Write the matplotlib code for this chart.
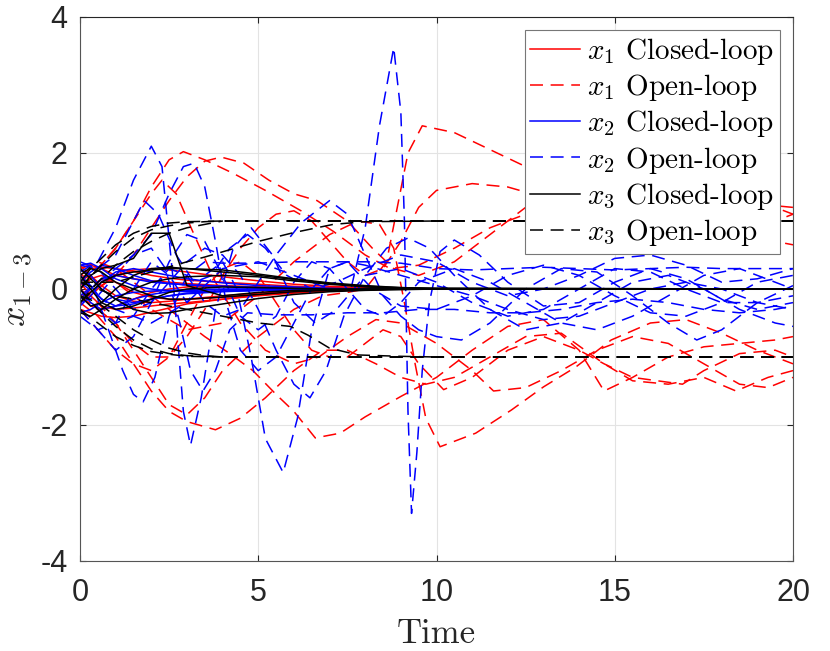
import matplotlib
matplotlib.use("Agg")
import matplotlib.pyplot as plt

plt.rcParams["mathtext.fontset"] = "cm"
plt.rcParams["axes.unicode_minus"] = False

# closed-loop runs: common time grid
t_closed = [0, 0.3, 0.6, 1, 1.5, 2, 2.5, 3, 4, 5, 6, 7, 8, 9, 10, 20]

x1_closed = [
    [0.3, 0.35, 0.3, 0.2, 0.15, 0.12, 0.1, 0.08, 0.05, 0.03, 0.02, 0.01, 0, 0, 0, 0],
    [-0.2, -0.1, 0.05, 0.2, 0.28, 0.3, 0.28, 0.25, 0.18, 0.12, 0.07, 0.04, 0.02, 0.01, 0, 0],
    [0.1, -0.1, -0.25, -0.3, -0.28, -0.25, -0.22, -0.2, -0.15, -0.1, -0.06, -0.03, -0.01, 0, 0, 0],
    [-0.3, -0.35, -0.4, -0.42, -0.4, -0.34, -0.28, -0.22, -0.15, -0.09, -0.05, -0.02, -0.01, 0, 0, 0],
    [0.2, 0.3, 0.32, 0.3, 0.26, 0.2, 0.16, 0.13, 0.1, 0.07, 0.04, 0.02, 0.01, 0, 0, 0],
    [0.0, 0.15, 0.2, 0.1, -0.05, -0.12, -0.15, -0.15, -0.12, -0.08, -0.05, -0.02, -0.01, 0, 0, 0],
    [-0.1, -0.25, -0.3, -0.25, -0.15, -0.05, 0.0, 0.03, 0.04, 0.03, 0.02, 0.01, 0, 0, 0, 0],
    [0.35, 0.2, 0.05, -0.1, -0.18, -0.2, -0.18, -0.15, -0.1, -0.06, -0.03, -0.01, 0, 0, 0, 0],
]

x2_closed = [
    [0.3, 0.2, 0.0, -0.15, -0.2, -0.15, -0.1, -0.07, -0.04, -0.02, -0.01, 0, 0, 0, 0, 0],
    [-0.25, -0.1, 0.1, 0.25, 0.3, 0.25, 0.2, 0.15, 0.09, 0.05, 0.03, 0.01, 0, 0, 0, 0],
    [0.1, 0.25, 0.35, 0.3, 0.2, 0.12, 0.08, 0.06, 0.04, 0.02, 0.01, 0, 0, 0, 0, 0],
    [-0.35, -0.3, -0.2, -0.1, -0.05, -0.03, -0.02, -0.01, 0, 0, 0, 0, 0, 0, 0, 0],
    [0.0, -0.2, -0.3, -0.25, -0.15, -0.08, -0.04, -0.02, -0.01, 0, 0, 0, 0, 0, 0, 0],
    [0.2, 0.05, -0.15, -0.25, -0.22, -0.15, -0.1, -0.06, -0.03, -0.02, -0.01, 0, 0, 0, 0, 0],
    [-0.15, 0.0, 0.15, 0.2, 0.15, 0.1, 0.08, 0.06, 0.04, 0.02, 0.01, 0, 0, 0, 0, 0],
    [0.35, 0.38, 0.3, 0.15, 0.05, 0.0, -0.03, -0.04, -0.03, -0.02, -0.01, 0, 0, 0, 0, 0],
]

x3_closed = [
    [0.0, 0.2, 0.3, 0.35, 0.45, 0.82, 0.82, 0.05, -0.1, -0.05, -0.02, -0.01, 0, 0, 0, 0],
    [0.3, 0.15, 0.0, -0.15, -0.3, -0.36, -0.35, -0.3, -0.22, -0.14, -0.08, -0.04, -0.02, -0.01, 0, 0],
    [-0.2, -0.05, 0.1, 0.2, 0.25, 0.28, 0.3, 0.3, 0.28, 0.22, 0.15, 0.09, 0.05, 0.02, 0.01, 0],
    [0.1, 0.3, 0.25, 0.1, 0.0, -0.1, -0.15, -0.15, -0.12, -0.08, -0.04, -0.02, -0.01, 0, 0, 0],
    [-0.35, -0.4, -0.3, -0.15, 0.0, 0.1, 0.15, 0.18, 0.2, 0.18, 0.12, 0.07, 0.03, 0.01, 0, 0],
    [0.2, 0.0, -0.2, -0.3, -0.25, -0.15, -0.05, 0.0, 0.03, 0.02, 0.01, 0, 0, 0, 0, 0],
    [-0.1, -0.25, -0.2, 0.0, 0.2, 0.3, 0.32, 0.3, 0.25, 0.2, 0.14, 0.08, 0.04, 0.02, 0.01, 0],
]

# open-loop runs: (time, value) knots
x1_open = [
    [(0, 0.1), (0.5, 0.3), (1, 0.6), (1.5, 1.0), (2, 1.5), (2.5, 1.9), (2.9, 2.02), (3.5, 1.9),
     (4.3, 1.7), (5.2, 1.45), (6.2, 1.15), (7.1, 0.85), (8, 0.5), (8.7, 0.3), (9.5, 0.35),
     (10.5, 0.6), (11.5, 0.9), (12.5, 1.1), (13.5, 1.0), (14.5, 0.8), (15.5, 0.7), (16.5, 0.85),
     (17.5, 1.1), (18.5, 1.3), (19.5, 1.2), (20, 1.1)],
    [(0, -0.1), (0.5, -0.3), (1, -0.5), (1.5, -0.9), (2, -1.3), (2.5, -1.7), (3, -1.85),
     (3.5, -1.6), (4, -1.2), (5, -0.7), (6, -0.3), (6.8, -0.1), (7.5, -0.05), (8, 0.0),
     (8.6, 0.4), (8.9, 1.2), (9.2, 2.0), (9.6, 2.4), (10.5, 2.3), (11.5, 2.05), (12.5, 1.8),
     (13.5, 1.55), (14.5, 1.35), (15.5, 1.2), (16.5, 1.05), (17.5, 0.95), (18.5, 0.85),
     (19.3, 0.72), (20, 0.65)],
    [(0, 0.2), (1, 0.1), (2, -0.3), (3, -0.6), (4, -0.5), (5, -0.1), (6, 0.4), (7, 0.8),
     (7.8, 1.0), (8.4, 0.95), (8.8, 0.6), (9.1, -0.2), (9.4, -1.1), (9.7, -1.9), (10.1, -2.32),
     (11.1, -2.12), (12.1, -1.78), (13, -1.44), (13.9, -1.15), (14.9, -0.75), (16, -0.5),
     (17, -0.45), (18, -0.65), (19, -0.9), (20, -1.1)],
    [(0, -0.2), (0.5, -0.4), (1, -0.7), (1.5, -1.1), (2, -1.5), (2.5, -1.8), (3, -1.95),
     (3.8, -2.07), (4.5, -1.9), (5.2, -1.6), (6, -1.2), (6.8, -0.9), (7.5, -0.9), (8.3, -1.1),
     (9, -1.3), (9.7, -1.4), (10.5, -1.3), (11.5, -1.0), (12.5, -0.7), (13.5, -0.65),
     (14.7, -1.1), (15.5, -1.35), (16.5, -1.4), (17.5, -1.3), (18.4, -1.5), (19.3, -1.3),
     (20, -1.2)],
    [(0, 0.3), (0.5, 0.4), (1, 0.3), (1.5, 0.1), (2, -0.1), (2.5, -0.3), (3, -0.5), (3.5, -0.7),
     (4.2, -0.95), (4.85, -1.2), (5.5, -1.55), (6, -1.8), (6.6, -2.19), (7.3, -2.12),
     (8, -1.88), (9, -1.58), (10, -1.3), (11, -0.9), (12, -0.55), (13, -0.45), (14, -0.9),
     (14.7, -1.5), (15.5, -1.3), (16.5, -1.0), (17.5, -0.85), (18.5, -0.8), (19.5, -0.75),
     (20, -0.7)],
    [(0, -0.1), (0.5, 0.0), (1, 0.2), (1.5, 0.5), (2, 0.9), (2.5, 1.3), (3, 1.65), (3.5, 1.88),
     (3.96, 1.94), (4.6, 1.85), (5.3, 1.6), (6, 1.4), (6.65, 1.3), (7.5, 1.0), (8.2, 0.6),
     (8.8, 0.3), (9.5, 0.2), (10.5, 0.4), (11.5, 0.8), (12.5, 1.2), (13.5, 1.45), (14.5, 1.5),
     (15.5, 1.3), (16.5, 1.0), (17.5, 0.8), (18.5, 0.8), (19.5, 1.0), (20, 1.1)],
    [(0, 0.0), (0.5, -0.2), (1, -0.5), (1.5, -0.8), (2, -1.0), (2.5, -1.0), (3, -0.7),
     (3.5, -0.3), (4, 0.2), (4.5, 0.6), (5, 0.9), (5.5, 1.1), (6, 1.15), (6.5, 1.0), (7, 0.7),
     (7.5, 0.4), (8, 0.2), (8.5, 0.3), (9, 0.7), (9.5, 1.2), (10, 1.45), (11, 1.55), (12, 1.5),
     (13, 1.35), (14, 1.1), (15, 0.85), (16, 0.75), (17, 0.85), (18, 1.1), (19, 1.25), (20, 1.2)],
    [(0, 0.0), (0.5, 0.3), (1, 0.6), (1.5, 1.0), (2, 1.4), (2.3, 1.6), (2.7, 1.4), (3.2, 0.8),
     (3.8, 0.1), (4.5, -0.5), (5.2, -0.9), (6, -1.1), (6.7, -1.0), (7.5, -0.7), (8.3, -0.45),
     (9, -0.5), (10, -0.8), (11, -1.2), (11.6, -1.5), (12.5, -1.45), (13.5, -1.2), (14.5, -0.9),
     (15.5, -0.7), (16.5, -0.8), (17.5, -1.1), (18.5, -1.4), (19.3, -1.45), (20, -1.3)],
    [(0, -0.3), (0.5, -0.6), (1, -0.9), (1.5, -1.1), (2, -1.2), (2.5, -1.0), (3, -0.5),
     (3.5, 0.0), (4, 0.3), (4.5, 0.4), (5, 0.2), (5.5, -0.2), (6, -0.6), (6.5, -0.9), (7, -1.0),
     (7.5, -1.0), (8, -0.8), (8.5, -0.6), (9, -0.7), (9.5, -1.1), (10.2, -1.48), (11, -1.3),
     (12, -0.9), (13, -0.7), (14, -0.9), (14.7, -1.1), (15.5, -1.3), (16.9, -1.4), (17.5, -1.2),
     (18.5, -0.95), (19.5, -0.9), (20, -1.0)],
]

x2_open = [
    [(0, 0.25), (0.5, 0.4), (1, 0.9), (1.5, 1.6), (2.0, 2.1), (2.3, 1.8), (2.6, 0.2),
     (2.9, -1.8), (3.1, -2.3), (3.4, -1.6), (3.8, -0.3), (4.3, 0.6), (4.8, 0.9), (5.4, 0.5),
     (6, -0.2), (6.6, -0.5), (7.2, -0.3), (8, 0.2), (9, 0.3), (10, 0.1), (11, -0.2), (12, -0.4),
     (13, -0.3), (14, 0.0), (15, 0.3), (16, 0.25), (17, 0.0), (18, -0.2), (19, -0.2), (20, -0.1)],
    [(0, -0.1), (0.5, 0.1), (1, 0.3), (1.5, 0.5), (2, 0.8), (2.5, 1.4), (2.9, 1.8), (3.2, 1.85),
     (3.5, 1.5), (3.8, 0.7), (4.1, -0.2), (4.5, -0.9), (5, -1.2), (5.5, -1.0), (6, -0.5),
     (6.5, 0.0), (7, 0.3), (7.5, 0.4), (8, 0.35), (9, 0.2), (10, 0.05), (11, -0.1), (12, -0.3),
     (13, -0.45), (14, -0.4), (15, -0.2), (16, 0.0), (17, 0.1), (18, 0.0), (19, -0.2), (20, -0.3)],
    [(0, 0.1), (1, -0.3), (2, -0.5), (3, -0.2), (4, 0.3), (5, 0.4), (6, 0.2), (7, 0.0),
     (7.6, 0.0), (8.0, 0.9), (8.4, 2.4), (8.8, 3.55), (9.0, 2.6), (9.1, 1.0), (9.2, -1.8),
     (9.3, -3.3), (9.45, -2.4), (9.6, -1.2), (9.8, -0.2), (10.1, 0.55), (10.5, 0.72),
     (11.2, 0.5), (12, 0.1), (13, -0.25), (14, -0.2), (15, 0.1), (16, 0.3), (17, 0.15),
     (18, -0.15), (19, -0.3), (20, -0.2)],
    [(0, -0.3), (0.5, -0.6), (1, -0.5), (1.5, 0.0), (2, 0.4), (2.5, 0.2), (3, -0.2), (3.5, 0.2),
     (4, 0.4), (4.4, 0.0), (4.8, -1.0), (5.2, -2.2), (5.7, -2.7), (6.1, -1.9), (6.5, -0.6),
     (7.0, 0.3), (7.5, 0.4), (8.2, 0.0), (9, -0.25), (10, -0.3), (11, -0.1), (12, 0.2),
     (13, 0.35), (14, 0.2), (15, -0.1), (16, -0.35), (17, -0.4), (18, -0.2), (19, 0.1), (20, 0.2)],
    [(0, 0.35), (0.5, 0.3), (1, 0.0), (1.5, -0.3), (2, -0.2), (2.5, 0.1), (3, 0.4), (3.5, 0.6),
     (4, 0.5), (4.5, 0.2), (5, -0.3), (5.5, -0.9), (6, -1.4), (6.45, -1.6), (6.9, -1.2),
     (7.4, -0.4), (8, 0.2), (8.6, 0.6), (9.2, 0.75), (9.8, 0.6), (10.5, 0.2), (11.5, -0.3),
     (12.5, -0.6), (13.5, -0.5), (14.5, -0.2), (15.5, 0.1), (16.5, 0.2), (17.5, 0.0),
     (18.5, -0.3), (19.5, -0.5), (20, -0.55)],
    [(0, 0.2), (0.4, 0.0), (0.8, -0.6), (1.2, -1.2), (1.5, -1.55), (1.77, -1.66), (2.1, -1.3),
     (2.5, -0.4), (3, 0.2), (3.5, 0.4), (4, 0.38), (5, 0.38), (6, 0.4), (7, 0.4), (8, 0.4),
     (9, 0.38), (10, 0.3), (11, 0.28), (12, 0.3), (13, 0.32), (14, 0.3), (15, 0.28), (16, 0.3),
     (17, 0.32), (18, 0.3), (19, 0.3), (20, 0.3)],
    [(0, -0.2), (0.5, -0.1), (1, 0.2), (1.5, 0.5), (2, 0.6), (2.4, 0.3), (2.8, -0.5),
     (3.1, -1.2), (3.45, -1.5), (3.8, -1.2), (4.2, -0.6), (4.7, -0.35), (5.5, -0.38),
     (6.5, -0.38), (7.5, -0.35), (8.5, -0.35), (9.5, -0.3), (10.5, -0.3), (11.5, -0.35),
     (12.5, -0.35), (13.5, -0.3), (14.5, -0.2), (15.5, -0.15), (16.5, -0.2), (17.5, -0.3),
     (18.5, -0.35), (19.5, -0.3), (20, -0.25)],
    [(0, 0.0), (0.5, -0.3), (1, -0.5), (1.5, -0.4), (2, 0.0), (2.5, 0.3), (3, 0.2), (3.5, -0.2),
     (4, -0.4), (4.5, -0.3), (5, 0.1), (5.5, 0.5), (6.2, 0.97), (7, 1.3), (7.5, 1.1), (8, 0.5),
     (8.5, -0.1), (9, -0.4), (9.5, -0.6), (10, -0.7), (10.7, -0.75), (11.5, -0.5), (12.5, 0.0),
     (13.5, 0.3), (14.5, 0.25), (15.5, -0.1), (16.5, -0.5), (17.3, -0.75), (18, -0.6),
     (19, -0.2), (20, 0.05)],
    [(0, 0.4), (0.5, 0.3), (1, 0.5), (1.5, 1.0), (1.8, 1.3), (2.2, 1.1), (2.7, 0.5), (3.2, 0.1),
     (3.7, 0.2), (4.2, 0.6), (4.7, 0.8), (5.2, 0.6), (5.8, 0.2), (6.5, 0.0), (7.2, 0.1),
     (8, 0.3), (9, 0.5), (10, 0.4), (11, 0.1), (12, -0.1), (13, 0.0), (14, 0.2), (15, 0.45),
     (16, 0.5), (17, 0.35), (18, 0.1), (19, 0.15), (20, 0.3)],
    [(0, -0.4), (0.5, -0.6), (1, -0.9), (1.5, -0.7), (2, -0.2), (2.5, 0.4), (3, 0.8), (3.5, 0.7),
     (4, 0.2), (4.5, -0.4), (5, -0.6), (5.5, -0.4), (6, 0.1), (6.5, 0.4), (7, 0.3), (7.5, 0.0),
     (8, -0.3), (8.5, -0.4), (9, -0.2), (9.5, 0.1), (10.5, 0.3), (11.5, 0.1), (12.5, -0.2),
     (13.5, -0.5), (14.5, -0.6), (15.5, -0.4), (16.5, -0.1), (17.5, 0.2), (18.5, 0.3),
     (19.5, 0.1), (20, 0.0)],
]

x3_open = [
    [(0, 0.0), (0.5, 0.3), (1, 0.55), (1.5, 0.75), (2, 0.87), (2.5, 0.93), (3, 0.97),
     (3.5, 0.99), (4, 1.0), (20, 1.0)],
    [(0, -0.2), (0.5, 0.1), (1, 0.35), (1.5, 0.55), (2, 0.7), (2.5, 0.82), (3, 0.9), (3.5, 0.95),
     (4, 1.0), (20, 1.0)],
    [(0, 0.1), (1, 0.1), (2, 0.25), (3, 0.4), (3.5, 0.47), (5, 0.7), (6, 0.83), (7.1, 0.95),
     (8, 0.99), (10, 1.0), (20, 1.0)],
    [(0, 0.2), (0.5, 0.4), (1, 0.65), (1.5, 0.82), (2, 0.92), (2.5, 0.97), (3, 0.99), (4, 1.0),
     (20, 1.0)],
    [(0, 0.0), (0.5, -0.3), (1, -0.55), (1.5, -0.75), (2, -0.88), (2.5, -0.95), (3, -0.98),
     (3.5, -0.99), (4, -1.0), (20, -1.0)],
    [(0, -0.3), (0.5, -0.5), (1, -0.7), (1.5, -0.83), (2, -0.92), (2.5, -0.96), (3, -0.99),
     (4, -1.0), (20, -1.0)],
    [(0, 0.1), (1, -0.1), (2, -0.2), (3, -0.3), (4, -0.4), (5, -0.5), (5.9, -0.55), (6.4, -0.68),
     (7, -0.87), (7.8, -0.97), (9, -0.99), (10, -1.0), (20, -1.0)],
    [(0, -0.1), (0.5, -0.2), (1, -0.4), (1.5, -0.6), (2, -0.75), (2.5, -0.87), (3, -0.94),
     (3.5, -0.98), (4, -1.0), (20, -1.0)],
]

labels = [r"$x_1$ Closed-loop", r"$x_1$ Open-loop", r"$x_2$ Closed-loop",
          r"$x_2$ Open-loop", r"$x_3$ Closed-loop", r"$x_3$ Open-loop"]

fig = plt.figure(figsize=(8.3, 6.51), dpi=100)
ax = fig.add_axes([80 / 830, 1 - 561 / 651, 713 / 830, 544 / 651])

lw = 1.1
dash = (8.5, 5.0)
period = (dash[0] + dash[1]) * lw
# points per time unit, used to keep the dash phase of the flat tails aligned
pts_per_t = 713 / 100 * 72 / 20


def plot_closed(runs, color, label):
    for i, y in enumerate(runs):
        ax.plot(t_closed, y, color=color, lw=lw, label=label if i == 0 else None)


def plot_open(runs, color, label, split_tail=False):
    for i, run in enumerate(runs):
        t = [p[0] for p in run]
        y = [p[1] for p in run]
        lab = label if i == 0 else None
        if split_tail:
            # transient part, then the flat tail with a dash phase tied to t
            ax.plot(t[:-1], y[:-1], color=color, lw=lw, linestyle=(0, dash), label=lab)
            off = ((t[-2] * pts_per_t) % period) / lw
            ax.plot(t[-2:], y[-2:], color=color, lw=lw, linestyle=(off, dash))
        else:
            ax.plot(t, y, color=color, lw=lw, linestyle=(0, dash), label=lab)


plot_closed(x1_closed, "#ff0000", labels[0])
plot_open(x1_open, "#ff0000", labels[1])
plot_closed(x2_closed, "#0000ff", labels[2])
plot_open(x2_open, "#0000ff", labels[3])
plot_closed(x3_closed, "black", labels[4])
plot_open(x3_open, "black", labels[5], split_tail=True)

ax.set_xlim(0, 20)
ax.set_ylim(-4, 4)
ax.set_xticks([0, 5, 10, 15, 20])
ax.set_yticks([-4, -2, 0, 2, 4])
ax.grid(True, color="#e3e3e3", lw=0.8)
ax.set_axisbelow(True)
ax.tick_params(direction="in", length=4.5, width=0.8, top=True, right=True,
               labelsize=22, colors="#262626")
ax.tick_params(axis="x", pad=12)
ax.tick_params(axis="y", pad=9)
for lab in ax.get_xticklabels() + ax.get_yticklabels():
    lab.set_fontfamily("Liberation Sans")
for s in ax.spines.values():
    s.set_color("#555555")
    s.set_linewidth(0.8)
ax.spines["top"].set_color("#262626")

ax.set_xlabel("Time", fontsize=25, family="cmr10", color="#262626", labelpad=8)
ax.set_ylabel(r"$x_{1-3}$", fontsize=26, color="#262626", labelpad=4)

leg = ax.legend(loc="upper right", bbox_to_anchor=(0.982, 0.976), borderaxespad=0,
                prop={"family": "cmr10", "size": 21}, fancybox=False, framealpha=1,
                edgecolor="#777777", handlelength=1.7, handletextpad=0.25,
                labelspacing=0.18, borderpad=0.2)
leg.get_frame().set_linewidth(0.8)

fig.savefig("out.png", dpi=100)
